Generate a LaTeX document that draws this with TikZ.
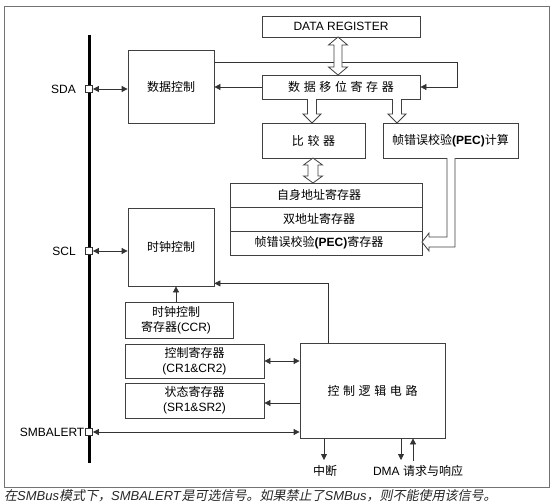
\documentclass[tikz,border=0pt]{standalone}
\usepackage{fontspec}
\setmainfont{Liberation Sans}
\newfontfamily\cjk{Noto Sans CJK SC}
\newfontfamily\cjkit{Noto Sans CJK SC}[FakeSlant=0.2]
\usetikzlibrary{arrows.meta}
\newcommand\cjgap{\hspace{3.6pt}}
\begin{document}
\begin{tikzpicture}[x=1pt,y=-1pt,
 box/.style={draw=black!75, line width=0.8pt, inner sep=0pt, align=center, font=\fontsize{12}{15}\selectfont},
 arr/.style={draw=black!80, line width=0.8pt, -{Triangle[length=6pt,width=6pt]}},
 darr/.style={draw=black!80, line width=0.8pt, {Triangle[length=6pt,width=6pt]}-{Triangle[length=6pt,width=6pt]}},
 hol/.style={draw=black!75, line width=0.8pt, fill=white},
 pin/.style={draw=black!80, fill=white, line width=0.8pt, minimum size=7pt, inner sep=0pt},
 lbl/.style={inner sep=0pt, font=\fontsize{12}{15}\selectfont}
]
\useasboundingbox (0,0) rectangle (554,503);
\draw[black!55, line width=0.8pt] (4,6) rectangle (549,487);

% bus
\draw[black, line width=3pt] (89,35) -- (89,463);
\node[pin] (sda) at (89,89) {};
\node[pin] (scl) at (89,251) {};
\node[pin] (alert) at (89,432) {};
\node[lbl, anchor=east] (sdal) at (76,89) {SDA};
\node[lbl, anchor=east] (scll) at (76,251) {SCL};
\node[lbl, anchor=east] (alertl) at (84.5,432) {SMBALERT};

% boxes
\node[box, minimum width=158pt, minimum height=21pt] (dreg) at (341,26.5) {DATA REGISTER};
\node[box, minimum width=158pt, minimum height=24pt] (shift) at (341,87) {\cjk 数\cjgap 据\cjgap 移\cjgap 位\cjgap 寄\cjgap 存\cjgap 器};
\node[box, minimum width=103pt, minimum height=35pt] (cmp) at (313.5,140.5) {\cjk 比\cjgap 较\cjgap 器};
\node[box, minimum width=135pt, minimum height=35pt] (pec) at (450.5,140.5) {{\cjk 帧错误校验}\textbf{(PEC)}{\cjk 计算}};
\node[box, minimum width=192pt, minimum height=24pt] (own) at (326,195) {\hspace*{-14pt}{\cjk 自身地址寄存器}};
\node[box, minimum width=192pt, minimum height=24pt] (dual) at (326,219) {\hspace*{-14pt}{\cjk 双地址寄存器}};
\node[box, minimum width=192pt, minimum height=24pt] (pecreg) at (326,243) {\hspace*{-14pt}{\cjk 帧错误校验}\textbf{(PEC)}{\cjk 寄存器}};
\node[box, minimum width=86pt, minimum height=73pt] (dctl) at (171,86.5) {\cjk 数据控制};
\node[box, minimum width=86pt, minimum height=78pt] (cctl) at (171,247) {\cjk 时钟控制};
\node[box, minimum width=108pt, minimum height=36pt] (ccr) at (179,320) {\hspace*{-6pt}{\cjk 时钟控制}\\\hspace*{-6pt}{\cjk 寄存器}(CCR)};
\node[box, minimum width=139pt, minimum height=34pt] (cr) at (194.5,361) {{\cjk 控制寄存器}\\(CR1\&CR2)};
\node[box, minimum width=139pt, minimum height=35pt] (sr) at (194.5,400.5) {{\cjk 状态寄存器}\\(SR1\&SR2)};
\node[box, minimum width=145pt, minimum height=95pt] (logic) at (372.5,390.5) {\cjk 控\cjgap 制\cjgap 逻\cjgap 辑\cjgap 电\cjgap 路};

% connectors
\draw[darr] (sda.east) -- (sda.east -| dctl.west);
\draw[darr] (scl.east) -- (scl.east -| cctl.west);
\draw[darr] (alert.east) -- (alert.east -| logic.west);
\draw[arr] (shift.west) -- (shift.west -| dctl.east);
\draw[arr] ([yshift=24.5pt]dctl.east) -| ([xshift=37pt]shift.east) -- (shift.east);
\draw[arr] ([xshift=-44.5pt]logic.north) |- ([yshift=3pt]cctl.south east);
\draw[arr] ([xshift=-3pt]ccr.north) -- ([xshift=-3pt]ccr.north |- cctl.south);
\draw[darr] (cr.east) -- (cr.east -| logic.west);
\draw[arr] ([yshift=-2.5pt]logic.west |- sr.east) -- ([yshift=-2.5pt]sr.east);

\coordinate (intend) at (324,460);
\coordinate (dmaa) at (401,460);
\coordinate (dmab) at (413,461);
\draw[arr] (logic.south -| intend) -- (intend);
\draw[arr] (logic.south -| dmaa) -- (dmaa);
\draw[arr] (dmab) -- (logic.south -| dmab);
\node[lbl] (intl) at (325,470.5) {\cjk 中断};
\node[lbl] (dmal) at (418,470.5) {DMA {\cjk 请求与响应}};

% hollow arrows
\path[hol] (338,37) -- (347.5,45) -- (342,45) -- (342,67) -- (347.5,67) -- (338,75) -- (328.5,67) -- (334,67) -- (334,45) -- (328.5,45) -- cycle;
\path[hol] (307.5,99) -- (307.5,114) -- (303,114) -- (312,123) -- (321,114) -- (316.5,114) -- (316.5,99);
\path[hol] (392.5,99) -- (392.5,114) -- (388,114) -- (397,123) -- (406,114) -- (401.5,114) -- (401.5,99);
\path[hol] (313,158) -- (322.5,165) -- (318,165) -- (318,176) -- (322.5,176) -- (313,183) -- (303.5,176) -- (308,176) -- (308,165) -- (303.5,165) -- cycle;
\path[hol] (447,158) -- (447,237) -- (429,237) -- (429,233) -- (422,242) -- (429,251) -- (429,247) -- (455,247) -- (455,158);

% caption
\node[inner sep=0pt, anchor=west, text=black!85, font=\fontsize{13}{15}\selectfont] (cap) at (4,496) {{\cjkit 在}\textit{SMBus}{\cjkit 模式下，}\textit{SMBALERT}{\cjkit 是可选信号。如果禁止了}\textit{SMBus}{\cjkit ，则不能使用该信号。}};
\end{tikzpicture}
\end{document}
